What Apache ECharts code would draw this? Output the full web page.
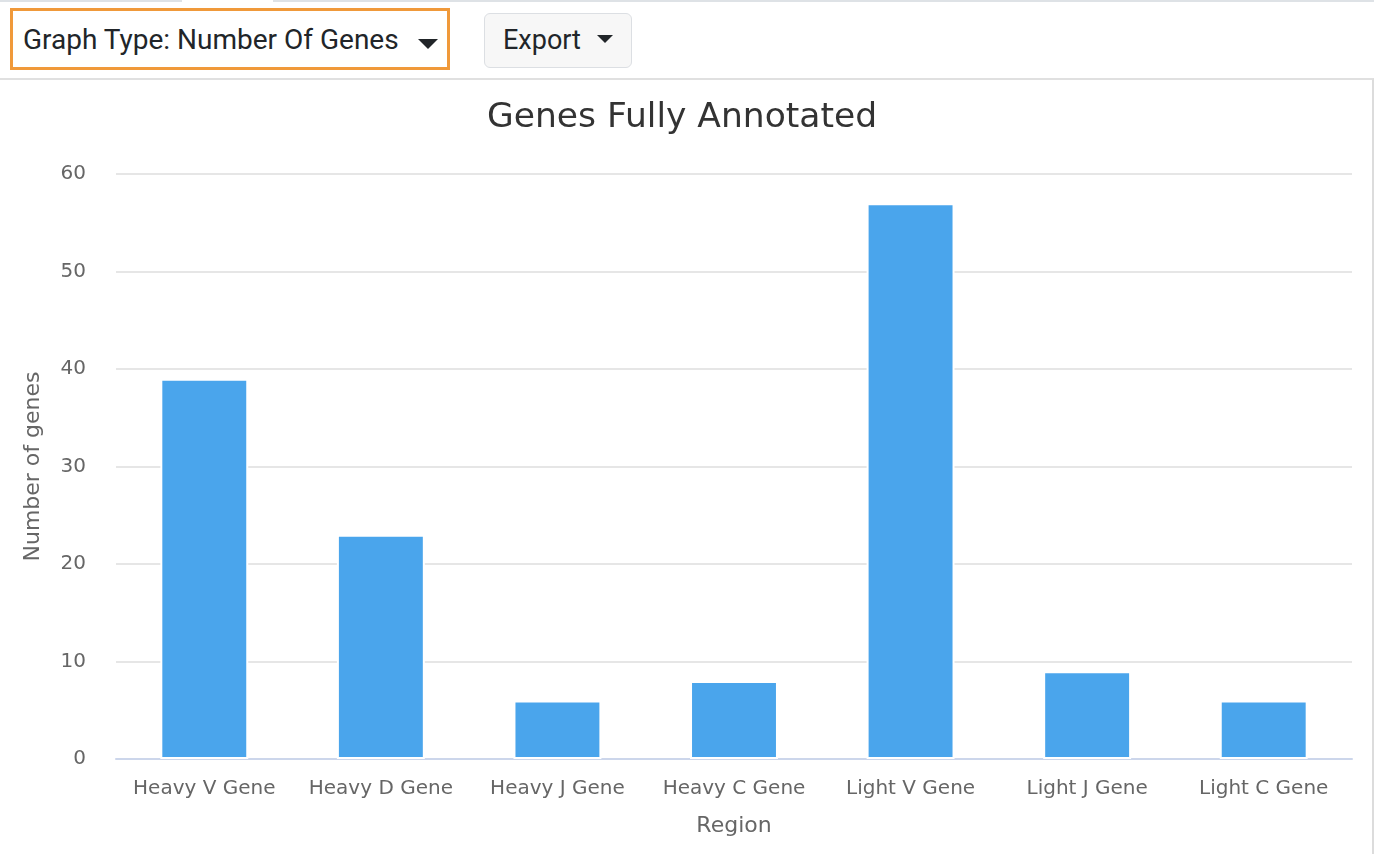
<!DOCTYPE html>
<html>
<head>
<meta charset="utf-8">
<script src="https://cdn.jsdelivr.net/npm/echarts@6/dist/echarts.min.js"></script>
<style>
  html, body { margin: 0; padding: 0; background: #fff; }
  body { width: 1374px; height: 854px; position: relative; overflow: hidden; font-family: Roboto, sans-serif; }
  .tabline { position: absolute; top: 0; height: 2px; background: #dee2e6; }
  .dropdown {
    position: absolute; left: 10px; top: 8px; width: 434px; height: 56px;
    border: 3px solid #f0993a; box-sizing: content-box;
    font-size: 28px; color: #212529; line-height: 58px;
  }
  .dropdown span { position: absolute; left: 10px; }
  .caret {
    position: absolute; width: 0; height: 0;
    border-left: 10px solid transparent; border-right: 10px solid transparent;
    border-top: 10px solid #212529;
  }
  .export {
    position: absolute; left: 484px; top: 13px; width: 146px; height: 53px;
    border: 1px solid #dcdfe3; border-radius: 6px; background: #f7f7f7;
    font-size: 27px; color: #212529; line-height: 53px;
  }
  .export span { position: absolute; left: 18px; }
  #chart {
    position: absolute; left: 0; top: 78px; width: 1372px; height: 776px;
    border-top: 2px solid #e0e0e0; border-right: 2px solid #dcdcdc;
  }
</style>
</head>
<body>
<div class="tabline" style="left:0;width:182px"></div>
<div class="tabline" style="left:273px;width:1101px"></div>
<div class="dropdown"><span>Graph Type: Number Of Genes</span><div class="caret" style="left:405px;top:28px"></div></div>
<div class="export"><span>Export</span><div class="caret" style="left:112px;top:21px;border-left-width:8px;border-right-width:8px;border-top-width:8px"></div></div>
<div id="chart"></div>
<script>
const regions = ['Heavy V Gene', 'Heavy D Gene', 'Heavy J Gene', 'Heavy C Gene', 'Light V Gene', 'Light J Gene', 'Light C Gene'];
const geneCounts = [39, 23, 6, 8, 57, 9, 6];
const yTicks = [0, 10, 20, 30, 40, 50, 60];

const chart = echarts.init(document.getElementById('chart'));
const font = '"DejaVu Sans", sans-serif';

const option = {
  animation: false,
  title: {
    text: 'Genes Fully Annotated',
    left: 482,
    top: 16,
    textStyle: { fontFamily: font, fontSize: 34.5, fontWeight: 'normal', color: '#333333' }
  },
  grid: { left: 116, right: 20, top: 94, bottom: 97 },
  xAxis: {
    type: 'category',
    data: regions,
    name: 'Region',
    nameLocation: 'middle',
    nameGap: 56,
    nameTextStyle: { fontFamily: font, fontSize: 22, color: '#666666' },
    axisLine: { lineStyle: { color: '#ccd6eb', width: 2 } },
    axisTick: { show: false },
    axisLabel: { fontFamily: font, fontSize: 20, color: '#666666', margin: 20, interval: 0 }
  },
  yAxis: {
    type: 'value',
    min: yTicks[0],
    max: yTicks[yTicks.length - 1],
    interval: 10,
    name: 'Number of genes',
    nameLocation: 'middle',
    nameGap: 72,
    nameTextStyle: { fontFamily: font, fontSize: 22, color: '#666666' },
    axisLine: { show: false },
    axisTick: { show: false },
    axisLabel: { fontFamily: font, fontSize: 20, color: '#666666', margin: 30, padding: [4, 0, 0, 0] },
    splitLine: { lineStyle: { color: '#e6e6e6', width: 2 } }
  },
  series: [{
    type: 'bar',
    data: geneCounts,
    barWidth: '49.8%',
    itemStyle: { color: '#4aa5ec', borderColor: '#ffffff', borderWidth: 2 }
  }]
};

chart.setOption(option);
</script>
</body>
</html>
